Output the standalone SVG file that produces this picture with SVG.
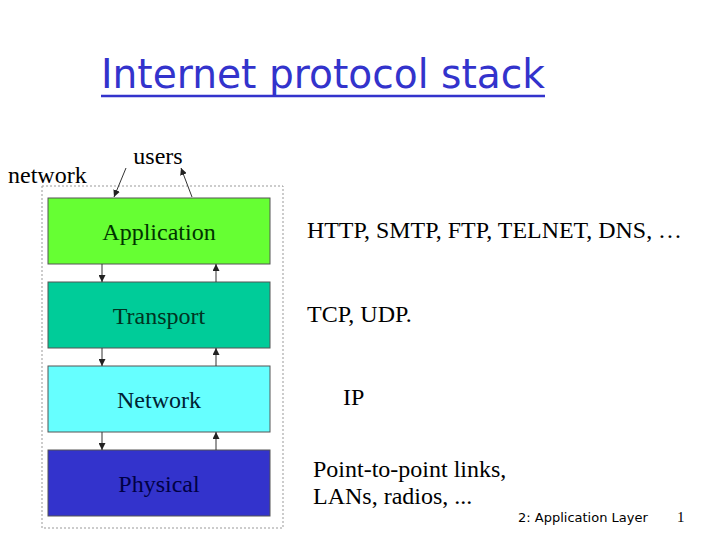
<svg xmlns="http://www.w3.org/2000/svg" width="720" height="540" viewBox="0 0 720 540">
<style>
.t{font-family:"Liberation Serif","Times New Roman",serif;fill:#000}
.lbl{font-family:"Liberation Serif","Times New Roman",serif;font-size:24px;text-anchor:middle}
.box{stroke:#555;stroke-width:1}
.con{stroke:#333;stroke-width:1;fill:none;marker-end:url(#ah)}
.comic{font-family:"Comic Sans MS","DejaVu Sans","Open Sans",sans-serif}
</style>
<defs>
<marker id="ah" viewBox="0 0 10 10" refX="10" refY="5" markerWidth="7" markerHeight="7" markerUnits="userSpaceOnUse" orient="auto">
<path d="M0,0 L10,5 L0,10 z" fill="#222"/>
</marker>
</defs>
<rect width="720" height="540" fill="#fff"/>
<g id="title">
<text class="comic" x="101" y="88" font-size="40" fill="#3333cc" textLength="444" lengthAdjust="spacingAndGlyphs">Internet protocol stack</text>
<line x1="101" y1="96" x2="545" y2="96" stroke="#3333cc" stroke-width="2.5"/>
</g>
<g id="network-frame">
<rect x="42" y="186" width="241" height="342" fill="none" stroke="#999" stroke-width="1" stroke-dasharray="2,2"/>
<text class="t" x="8" y="183" font-size="24">network</text>
</g>
<g id="users">
<text class="t" x="158" y="164" font-size="24" text-anchor="middle">users</text>
</g>
<g id="application">
<rect class="box" x="48" y="198" width="222" height="66" fill="#66ff33"/>
<text class="lbl" x="159" y="240" fill="#003300">Application</text>
</g>
<g id="transport">
<rect class="box" x="48" y="282" width="222" height="66" fill="#00cc99"/>
<text class="lbl" x="159" y="324" fill="#003322">Transport</text>
</g>
<g id="network">
<rect class="box" x="48" y="366" width="222" height="66" fill="#66ffff"/>
<text class="lbl" x="159" y="408" fill="#002233">Network</text>
</g>
<g id="physical">
<rect class="box" x="48" y="450" width="222" height="66" fill="#3333cc"/>
<text class="lbl" x="159" y="492" fill="#000044">Physical</text>
</g>
<g id="connectors">
<line class="con" x1="126" y1="168" x2="114" y2="197"/>
<line class="con" x1="192" y1="197" x2="181" y2="168"/>
<line class="con" x1="102" y1="264" x2="102" y2="282"/>
<line class="con" x1="216" y1="282" x2="216" y2="264"/>
<line class="con" x1="102" y1="348" x2="102" y2="366"/>
<line class="con" x1="216" y1="366" x2="216" y2="348"/>
<line class="con" x1="102" y1="432" x2="102" y2="450"/>
<line class="con" x1="216" y1="450" x2="216" y2="432"/>
</g>
<g id="protocols">
<text class="t" x="307" y="238" font-size="24" textLength="375" lengthAdjust="spacingAndGlyphs">HTTP, SMTP, FTP, TELNET, DNS, …</text>
<text class="t" x="307" y="322" font-size="24">TCP, UDP.</text>
<text class="t" x="343" y="405" font-size="24">IP</text>
<text class="t" x="313" y="477" font-size="24">Point-to-point links,</text>
<text class="t" x="313" y="504" font-size="24">LANs, radios, ...</text>
</g>
<g id="footer">
<text class="comic" x="518" y="522" font-size="13" fill="#000">2: Application Layer</text>
<text class="t" x="677" y="522" font-size="15">1</text>
</g>
</svg>
